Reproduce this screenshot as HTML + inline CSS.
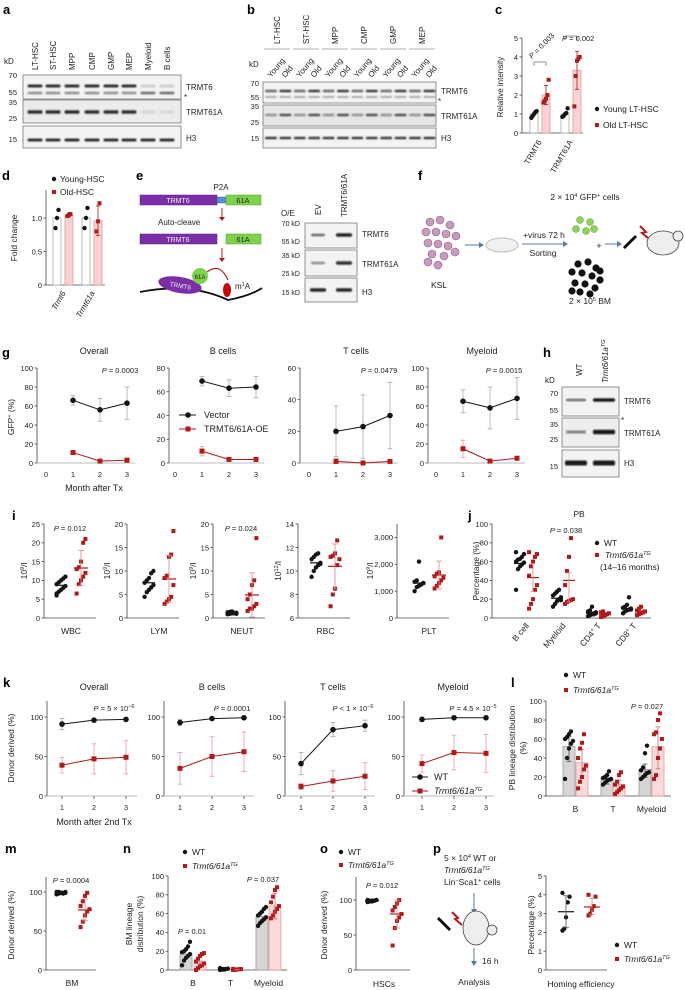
<!DOCTYPE html>
<html><head><meta charset="utf-8"><style>
html,body{margin:0;padding:0;background:#fff;}
svg{display:block;font-family:"Liberation Sans",sans-serif;}
</style></head><body>
<svg id="fig" width="685" height="990" viewBox="0 0 685 990" xmlns="http://www.w3.org/2000/svg">
<defs><filter id="blur" x="-20%" y="-50%" width="140%" height="200%"><feGaussianBlur stdDeviation="0.7"/></filter></defs>
</svg>
<script>
// ---------- data ----------
const cCategories=['TRMT6','TRMT61A'];
const cYoungMean=[1.0,1.0];
const cOldMean=[2.0,3.3];
const cOldErr=[0.5,1.0];
const cYoungPts=[[0.8,0.9,1.0,1.1,1.15],[0.85,0.9,1.0,1.05,1.3]];
const cOldPts=[[1.6,1.7,1.8,2.0,2.8],[1.4,3.0,3.8,3.9,4.0]];
const cTicks=[0,1,2,3,4,5];

const dCategories=['Trmt6','Trmt61a'];
const dYoungMean=[1.0,1.0];
const dOldMean=[1.04,0.96];
const dOldErr=[0.02,0.22];
const dYoungPts=[[0.85,1.0,1.12],[0.85,1.0,1.15]];
const dOldPts=[[1.03,1.05,1.06],[0.8,0.95,1.22]];
const dTicks=[0,0.5,1.0];

const gTitles=['Overall','B cells','T cells','Myeloid'];
const gMonths=[1,2,3];
const gVector=[[66,56,63],[69,63,64],[20,23,30],[65,58,68]];
const gVectorErr=[[5,12,17],[4,7,9],[16,20,21],[12,22,22]];
const gOE=[[11,2,3],[10,3,3],[1,0,1],[15,2,5]];
const gOEErr=[[2,1,1],[4,1,1],[2,0,1],[9,1,1]];
const gYMax=[100,80,60,100];
const gPvals=['<tspan font-style="italic">P</tspan> = 0.0003','','<tspan font-style="italic">P</tspan> = 0.0479','<tspan font-style="italic">P</tspan> = 0.0015'];

const iCats=['WBC','LYM','NEUT','RBC','PLT'];
const iUnits=['10<tspan dy="-3" font-size="5.5">9</tspan><tspan dy="3">/l</tspan>','10<tspan dy="-3" font-size="5.5">9</tspan><tspan dy="3">/l</tspan>','10<tspan dy="-3" font-size="5.5">9</tspan><tspan dy="3">/l</tspan>','10<tspan dy="-3" font-size="5.5">12</tspan><tspan dy="3">/l</tspan>','10<tspan dy="-3" font-size="5.5">9</tspan><tspan dy="3">/l</tspan>'];
const iMin=[0,0,0,6,0];
const iMax=[25,20,20,14,3500];
const iTicks=[[0,5,10,15,20,25],[0,5,10,15,20],[0,5,10,15,20],[6,8,10,12,14],[0,1000,2000,3000]];
const iTickLabels=[['0','5','10','15','20','25'],['0','5','10','15','20'],['0','5','10','15','20'],['6','8','10','12','14'],['0','1,000','2,000','3,000']];
const iWT=[[6,7,7.5,8,8.5,9,9.5,10,10.5,11,6.5],[4.5,5.5,6,6.5,7,7.5,8,8.5,9.5,10],[0.8,0.9,1,1,1.1,1.2,1.3,1.4,1.1,0.9],[9.5,10,10.3,10.5,10.7,11,11.2,11.4,11.5,10.6],[1000,1150,1200,1250,1300,1350,1400,2100,1250,1300]];
const iTG=[[6.5,9,10,11,12,13,13.5,15,20,21],[3,3.5,4,4.5,7,8.5,9,13,13.5,18.5],[1.5,2,2,2.5,3,4,5,7,8,17],[7,8,8.5,10.5,11,11.2,11.3,11.5,12.6],[1100,1200,1300,1400,1500,1550,1650,1700,3000]];
const iWTMean=[8.7,7.5,1.1,10.7,1300];
const iTGMean=[13.3,8.3,4.9,10.4,1600];
const iTGSd=[4.7,5,4.7,1.9,520];
const iPvals=['<tspan font-style="italic">P</tspan> = 0.012','','<tspan font-style="italic">P</tspan> = 0.024','',''];

const jCats=['B cell','Myeloid','CD4<tspan dy="-3" font-size="5.5">+</tspan><tspan dy="3"> T</tspan>','CD8<tspan dy="-3" font-size="5.5">+</tspan><tspan dy="3"> T</tspan>'];
const jWT=[[30,52,55,57,59,60,62,63,65,68,70],[12,15,18,20,22,24,26,28,30,19],[2,3,4,5,6,7,8,12,4,5],[5,7,8,9,10,11,12,14,22,9]];
const jTG=[[10,15,20,30,35,45,55,60,65,68,70],[15,17,18,19,20,35,50,65,85],[1,2,3,4,5,6,7,3],[3,4,5,6,7,8,10,12,6]];
const jWTMean=[58,21,5,10];
const jTGMean=[43,40,4,7];
const jTicks=[0,20,40,60,80,100];

const kTitles=['Overall','B cells','T cells','Myeloid'];
const kMonths=[1,2,3];
const kWT=[[91,96,97],[93,98,99],[41,84,89],[97,99,99]];
const kWTErr=[[7,2,2],[4,1,1],[14,9,7],[3,1,1]];
const kTG=[[39,47,49],[35,50,56],[12,19,25],[41,55,54]];
const kTGErr=[[10,19,21],[20,25,25],[4,13,17],[11,22,24]];
const kPvals=['<tspan font-style="italic">P</tspan> = 5 × 10<tspan dy="-3" font-size="5.5">−6</tspan>','<tspan font-style="italic">P</tspan> = 0.0001','<tspan font-style="italic">P</tspan> &lt; 1 × 10<tspan dy="-3" font-size="5.5">−6</tspan>','<tspan font-style="italic">P</tspan> = 4.5 × 10<tspan dy="-3" font-size="5.5">−5</tspan>'];

const lCats=['B','T','Myeloid'];
const lWTMean=[52,18,28];
const lTGMean=[35,12,52];
const lWTPts=[[18,40,50,55,58,60,62,65,68],[12,14,16,17,18,19,20,22,26],[18,20,22,24,25,27,30,45,53]];
const lTGPts=[[8,15,20,28,32,40,50,56,65],[2,4,6,8,10,12,15,22,25],[18,22,40,50,60,65,67,80,87]];
const lTicks=[0,20,40,60,80,100];

const mWT=[97,98,99,99,100,100,100,99,98,99];
const mTG=[55,62,70,75,78,82,88,95,99];
const mTGMean=77;

const nCats=['B','T','Myeloid'];
const nWTMean=[17,1,57];
const nTGMean=[8,0.5,68];
const nWTPts=[[5,10,13,15,17,19,20,22,25,30],[0,0.5,1,1,1.5,2,1,0.5],[47,50,52,54,56,58,60,62,65,67]];
const nTGPts=[[0,2,4,5,7,9,12,15,17,18],[0,0.2,0.5,0.8,1,1.2,0.6],[55,58,62,65,68,72,78,85,88]];
const nTicks=[0,20,40,60,80,100];

const oWT=[97,98,99,99,100,100,99,98,99];
const oTG=[35,60,70,75,80,85,90,95,100];
const oTGMean=80;

const pWT=[2.1,2.2,2.8,3.6,3.9,4.1];
const pTG=[2.9,3.0,3.2,3.4,3.9,4.0];
const pWTMean=3.1;
const pTGMean=3.35;

// ---------- helpers ----------
const NS='http://www.w3.org/2000/svg';
const svg=document.getElementById('fig');
const RED='#b01a1a', BLK='#151515';
function mk(tag,attrs,name){
  const e=document.createElementNS(NS,tag);
  for(const k in attrs) e.setAttribute(k,attrs[k]);
  
  
  svg.appendChild(e);return e;
}
function T(x,y,html,name,o={}){
  const e=mk('text',{x:x,y:y,'font-size':o.s||8,'text-anchor':o.a||'start',fill:o.f||'#222','font-weight':o.w||'normal','font-style':o.i?'italic':'normal'},name);
  if(o.r) e.setAttribute('transform','rotate('+o.r+' '+x+' '+y+')');
  e.innerHTML=html;return e;
}
function L(x1,y1,x2,y2,name,c,w){return mk('line',{x1:x1,y1:y1,x2:x2,y2:y2,stroke:c||'#333','stroke-width':w||0.8},name);}
function R(x,y,w,h,name,fill,stroke,sw){return mk('rect',{x:x,y:y,width:w,height:h,fill:fill||'none',stroke:stroke||'none','stroke-width':sw||0.8},name);}
function dot(x,y,name){return mk('circle',{cx:x,cy:y,r:2.2,fill:BLK},name);}
function sq(x,y,name,s){s=s||4;return mk('rect',{x:x-s/2,y:y-s/2,width:s,height:s,fill:RED},name);}
function yAxis(x,ticks,labels,sc,name,top){
  L(x,sc(ticks[0]),x,top!==undefined?top:sc(ticks[ticks.length-1]),name+'-line','#444',0.8);
  ticks.forEach((t,i)=>{L(x-2.5,sc(t),x,sc(t),name+'-tick','#444',0.8);T(x-4,sc(t)+2.8,labels[i],name+'-tick-label',{a:'end',s:7.5});});
}
function errbar(x,lo,hi,name,c,cap){cap=cap||2.5;L(x,lo,x,hi,name,c,0.8);L(x-cap,lo,x+cap,lo,name+'-cap',c,0.8);L(x-cap,hi,x+cap,hi,name+'-cap',c,0.8);}
function jit(i){return ((i%5)-2)*2.2;}
function band(x,y,w,h,op,name){return mk('rect',{x:x-w/2,y:y-h/2,width:w,height:h,rx:1.5,fill:'#111','fill-opacity':op,filter:'url(#blur)'},name);}
function panel(x,y,l){T(x,y,l,'panel-label-'+l,{s:13,w:'bold',f:'#000'});}

// ---------- panel labels ----------
[['a',3,14],['b',247,14],['c',495,14],['d',2,180],['e',136,180],['f',418,180],['g',2,357],['h',543,357],['i',12,520],['j',468,520],['k',3,687],['l',511,687],['m',5,853],['n',123,853],['o',320,853],['p',433,853]].forEach(p=>panel(p[1],p[2],p[0]));

// ---------- panel a blot ----------
const aLanes=['LT-HSC','ST-HSC','MPP','CMP','GMP','MEP','Myeloid','B cells'];
const aX=[35,53,72,92,111,129,148,167];
aLanes.forEach((n,i)=>T(aX[i]+3,70,n,'a-lane-label',{r:-90,s:8}));
T(4,64,'kD','a-kd-label',{s:8});
R(23,75,158,24,'a-trmt6-blot','#f3f3f3','#777');
R(23,100,158,23,'a-trmt61a-blot','#ececec','#777');
R(23,126,158,22,'a-h3-blot','#f3f3f3','#777');
aX.forEach((x,i)=>{const s=i<6;
  band(x,86,15,3,s?0.85:0.15,'a-trmt6-band');
  band(x,93,15,2.5,s?0.45:0.6,'a-nonspecific-band');
  band(x,112,15,3.5,s?0.85:0.08,'a-trmt61a-band');
  band(x,140,15,3,0.85,'a-h3-band');});
[['70',78],['55',95],['35',105],['25',121],['15',142]].forEach(k=>T(17,k[1],k[0],'a-kd-tick',{a:'end',s:7.5}));
T(186,90,'TRMT6','a-trmt6-label');T(184,100,'*','a-asterisk');T(186,115,'TRMT61A','a-trmt61a-label');T(186,141,'H3','a-h3-label');

// ---------- panel b blot ----------
const bGroups=['LT-HSC','ST-HSC','MPP','CMP','GMP','MEP'];
bGroups.forEach((g,i)=>{const cx=277+i*29;T(cx+3,44,g,'b-group-label',{r:-90,s:8});L(cx-13,49,cx+13,49,'b-group-line','#999',0.8);});
for(let i=0;i<12;i++){const x=271+i*14.4;T(x,78,i%2?'Old':'Young','b-age-label',{r:-50,s:8});}
T(249,67,'kD','b-kd-label');
R(263,82,173,21,'b-trmt6-blot','#f3f3f3','#777');
R(263,105,173,21,'b-trmt61a-blot','#e6e6e6','#777');
R(263,128,173,20,'b-h3-blot','#f3f3f3','#777');
for(let i=0;i<12;i++){const x=271+i*14.4;
  band(x,91,12,2.5,i%2?0.8:0.6,'b-trmt6-band');band(x,97,12,2,0.3,'b-nonspecific-band');
  band(x,115,12,2.5,i%2?0.7:0.4,'b-trmt61a-band');band(x,138,12,2.5,0.8,'b-h3-band');}
[['70',86],['55',100],['35',109],['25',125],['15',141]].forEach(k=>T(259,k[1],k[0],'b-kd-tick',{a:'end',s:7.5}));
T(441,94,'TRMT6','b-trmt6-label');T(438,104,'*','b-asterisk');T(441,119,'TRMT61A','b-trmt61a-label');T(441,141,'H3','b-h3-label');

// ---------- panel c ----------
const yc=v=>133-v*19;
yAxis(522,cTicks,cTicks.map(String),yc,'c-y-axis');
L(522,133,583,133,'c-x-axis','#444');
T(503,87,'Relative intensity','c-y-title',{a:'middle',r:-90,s:8});
const cX=[540,571];
cCategories.forEach((c,i)=>{const xy=cX[i]-6,xo=cX[i]+6;
  R(xy-4,yc(cYoungMean[i]),8,133-yc(cYoungMean[i]),'c-young-bar','#fff','#aaa');
  R(xo-4,yc(cOldMean[i]),8,133-yc(cOldMean[i]),'c-old-bar','#f9d3d3','#e49a9a');
  errbar(xo,yc(cOldMean[i]-cOldErr[i]),yc(cOldMean[i]+cOldErr[i]),'c-old-error',RED,2);
  cYoungPts[i].forEach((v,j)=>dot(xy+jit(j)*0.6,yc(v),'c-young-point'));
  cOldPts[i].forEach((v,j)=>sq(xo+jit(j)*0.6,yc(v),'c-old-point'));
  T(cX[i]+2,142,c,'c-x-label',{a:'end',r:-60,s:8});});
L(534,62,546,62,'c-bracket-1','#777');L(534,62,534,66,'c-bracket-1-l','#777');L(546,62,546,66,'c-bracket-1-r','#777');
L(565,36,577,36,'c-bracket-2','#777');L(565,36,565,40,'c-bracket-2-l','#777');L(577,36,577,40,'c-bracket-2-r','#777');
T(532,59,'<tspan font-style="italic">P</tspan> = 0.003','c-pvalue-1',{r:-45,s:7.5});
T(562,41,'<tspan font-style="italic">P</tspan> = 0.002','c-pvalue-2',{s:7.5});
dot(597,109,'c-legend-young-marker');T(603,112,'Young LT-HSC','c-legend-young',{s:8.5});
sq(597,125,'c-legend-old-marker');T(603,128,'Old LT-HSC','c-legend-old',{s:8.5});

// ---------- panel d ----------
const yd=v=>285-v*67;
yAxis(46,dTicks,['0','0.5','1.0'],yd,'d-y-axis',190);
L(46,285,105,285,'d-x-axis','#444');
T(17,238,'Fold change','d-y-title',{a:'middle',r:-90,s:8.5});
const dX=[63,92];
dCategories.forEach((c,i)=>{const xy=dX[i]-6,xo=dX[i]+6;
  R(xy-4,yd(dYoungMean[i]),8,285-yd(dYoungMean[i]),'d-young-bar','#fff','#aaa');
  R(xo-4,yd(dOldMean[i]),8,285-yd(dOldMean[i]),'d-old-bar','#f9d3d3','#e49a9a');
  errbar(xo,yd(dOldMean[i]-dOldErr[i]),yd(dOldMean[i]+dOldErr[i]),'d-old-error',RED,2);
  dYoungPts[i].forEach((v,j)=>dot(xy+(j-1)*1.5,yd(v),'d-young-point'));
  dOldPts[i].forEach((v,j)=>sq(xo+(j-1)*1.5,yd(v),'d-old-point'));
  T(dX[i]+3,293,c,'d-x-label',{a:'end',r:-60,s:8,i:true});});
dot(54,179,'d-legend-young-marker');T(60,182,'Young-HSC','d-legend-young',{s:8.5});
sq(54,192,'d-legend-old-marker');T(60,195,'Old-HSC','d-legend-old',{s:8.5});

// ---------- panel e ----------
R(140,195,77,10,'e-trmt6-construct','#7b2fa6','#5a1f80',0.5);T(178,203,'TRMT6','e-trmt6-text',{a:'middle',s:7,f:'#eee'});
R(217,197,9,6,'e-p2a-linker','#5b8ad8','#3a66b0',0.5);
R(226,195,35,10,'e-61a-construct','#7cd34a','#4f9a2a',0.5);T(243,203,'61A','e-61a-text',{a:'middle',s:7.5,f:'#222'});
T(221,190,'P2A','e-p2a-label',{a:'middle',s:8});
L(222,208,222,218,'e-arrow-1',RED,1);mk('path',{d:'M219,217 L222,221 L225,217 Z',fill:RED},'e-arrow-1-head');
T(158,225,'Auto-cleave','e-autocleave-label',{s:8});
R(140,234,77,10,'e-trmt6-cleaved','#7b2fa6','#5a1f80',0.5);T(178,242,'TRMT6','e-trmt6-cleaved-text',{a:'middle',s:7,f:'#eee'});
R(226,234,35,10,'e-61a-cleaved','#7cd34a','#4f9a2a',0.5);T(243,242,'61A','e-61a-cleaved-text',{a:'middle',s:7.5});
L(222,248,222,259,'e-arrow-2',RED,1);mk('path',{d:'M219,258 L222,262 L225,258 Z',fill:RED},'e-arrow-2-head');
mk('path',{d:'M140,292 Q190,282 228,300 Q250,296 262,288',fill:'none',stroke:'#111','stroke-width':1.8},'e-rna-strand');
mk('ellipse',{cx:180,cy:285,rx:22,ry:8,fill:'#7b2fa6',transform:'rotate(10 180 285)'},'e-trmt6-protein');
T(180,288,'TRMT6','e-trmt6-protein-text',{a:'middle',s:6.5,f:'#eee',r:10});
mk('circle',{cx:200,cy:276,r:8,fill:'#7cd34a'},'e-61a-protein');T(200,279,'61A','e-61a-protein-text',{a:'middle',s:6});
mk('path',{d:'M207,272 Q220,262 228,280',fill:'none',stroke:RED,'stroke-width':1.2},'e-methyl-arrow');
mk('ellipse',{cx:227,cy:290,rx:4,ry:7,fill:'#c00'},'e-m1a-mark');
T(235,289,'m<tspan dy="-3" font-size="5.5">1</tspan><tspan dy="3">A</tspan>','e-m1a-label',{s:8});
T(281,216,'O/E','e-oe-label',{s:8});
T(321,215,'EV','e-ev-label',{r:-90,s:8});T(347,217,'TRMT6/61A','e-oe-lane-label',{r:-90,s:8});
R(305,223,52,25,'e-trmt6-blot','#f3f3f3','#777');R(305,250,52,26,'e-trmt61a-blot','#f3f3f3','#777');R(305,278,52,24,'e-h3-blot','#f3f3f3','#777');
band(318,235,14,2.5,0.6,'e-trmt6-band-ev');band(344,235,16,3.5,0.9,'e-trmt6-band-oe');
band(318,263,14,2.5,0.45,'e-trmt61a-band-ev');band(344,263,16,3.5,0.85,'e-trmt61a-band-oe');
band(318,290,16,3.5,0.9,'e-h3-band-ev');band(344,290,16,3.5,0.9,'e-h3-band-oe');
[['70 kD',226],['55 kD',244],['35 kD',258],['25 kD',276],['15 kD',295]].forEach(k=>T(300,k[1],k[0],'e-kd-tick',{a:'end',s:7}));
T(362,237,'TRMT6','e-trmt6-label');T(362,267,'TRMT61A','e-trmt61a-label');T(362,295,'H3','e-h3-label');

// ---------- panel f ----------
const kslCells=[[430,222],[440,220],[450,225],[426,232],[436,232],[446,234],[456,236],[428,243],[438,244],[448,246],[432,254],[444,256],[455,252],[438,265],[428,262]];
kslCells.forEach(c=>mk('circle',{cx:c[0],cy:c[1],r:4,fill:'#c79bbd',stroke:'#8f5d84','stroke-width':0.6},'f-ksl-cell'));
T(439,288,'KSL','f-ksl-label',{a:'middle',s:8.5});
L(465,245,480,245,'f-arrow-1','#5a7aa0',1);mk('path',{d:'M479,242 L484,245 L479,248 Z',fill:'#5a7aa0'},'f-arrow-1-head');
mk('ellipse',{cx:502,cy:245,rx:16,ry:7,fill:'#f0f0f0',stroke:'#bbb'},'f-culture-dish');
T(544,238,'+virus 72 h','f-virus-label',{a:'middle',s:8.5});
L(522,244,564,244,'f-arrow-2','#5a7aa0',1);mk('path',{d:'M563,241 L568,244 L563,247 Z',fill:'#5a7aa0'},'f-arrow-2-head');
T(543,256,'Sorting','f-sorting-label',{a:'middle',s:8.5});
T(585,200,'2 × 10<tspan dy="-3" font-size="5.5">4</tspan><tspan dy="3"> GFP</tspan><tspan dy="-3" font-size="5.5">+</tspan><tspan dy="3"> cells</tspan>','f-gfp-cells-label',{a:'middle',s:8.5});
[[580,220],[590,222],[576,229],[586,231],[594,229]].forEach(c=>mk('circle',{cx:c[0],cy:c[1],r:3.5,fill:'#8fd25a',stroke:'#5f9a37','stroke-width':0.5},'f-gfp-cell'));
T(599,249,'+','f-plus',{a:'middle',s:9});
[[578,264],[588,262],[596,268],[572,272],[582,273],[592,276],[600,280],[575,283],[585,284],[595,288],[580,292],[590,294],[572,291],[600,271]].forEach(c=>mk('circle',{cx:c[0],cy:c[1],r:3.6,fill:'#111'},'f-bm-cell'));
T(590,304,'2 × 10<tspan dy="-3" font-size="5.5">5</tspan><tspan dy="3"> BM</tspan>','f-bm-label',{a:'middle',s:8.5});
L(605,244,618,244,'f-arrow-3','#5a7aa0',1);mk('path',{d:'M617,241 L622,244 L617,247 Z',fill:'#5a7aa0'},'f-arrow-3-head');
mk('path',{d:'M624,248 L636,236',stroke:'#111','stroke-width':3},'f-syringe');
mk('path',{d:'M640,226 L646,232 L642,233 L648,238',stroke:RED,'stroke-width':2,fill:'none'},'f-irradiation');
mk('ellipse',{cx:663,cy:243,rx:16,ry:12,fill:'#eee',stroke:'#444','stroke-width':0.8},'f-mouse-body');
mk('circle',{cx:678,cy:236,r:5,fill:'#eee',stroke:'#444','stroke-width':0.8},'f-mouse-head');

// ---------- panel g ----------
const gAxisX=[37,169,300,428], gX0=[46,175,309,436], gTitleX=[94,223,356,482];
gTitles.forEach((t,s)=>{
  const sc=v=>463-v*95/gYMax[s];
  const xs=m=>gX0[s]+m*27;
  T(gTitleX[s],354,t,'g-title-'+t.replace(' ','-').toLowerCase(),{a:'middle',s:9});
  const tk=[];for(let v=0;v<=gYMax[s];v+=20)tk.push(v);
  yAxis(gAxisX[s],tk,tk.map(String),sc,'g-y-axis');
  L(gAxisX[s],463,xs(3)+8,463,'g-x-axis','#bbb',1);
  [0,1,2,3].forEach(m=>T(xs(m),477,String(m),'g-x-tick-label',{a:'middle',s:7.5}));
  gMonths.forEach((m,i)=>errbar(xs(m),sc(Math.max(0,gVector[s][i]-gVectorErr[s][i])),sc(gVector[s][i]+gVectorErr[s][i]),'g-vector-error','#aaa',2.5));
  gMonths.forEach((m,i)=>errbar(xs(m),sc(Math.max(0,gOE[s][i]-gOEErr[s][i])),sc(gOE[s][i]+gOEErr[s][i]),'g-oe-error','#e99',2.5));
  mk('polyline',{points:gMonths.map((m,i)=>xs(m)+','+sc(gVector[s][i])).join(' '),fill:'none',stroke:BLK,'stroke-width':1},'g-vector-line');
  mk('polyline',{points:gMonths.map((m,i)=>xs(m)+','+sc(gOE[s][i])).join(' '),fill:'none',stroke:RED,'stroke-width':1},'g-oe-line');
  gMonths.forEach((m,i)=>mk('circle',{cx:xs(m),cy:sc(gVector[s][i]),r:2.8,fill:BLK},'g-vector-point'));
  gMonths.forEach((m,i)=>sq(xs(m),sc(gOE[s][i]),'g-oe-point',5));
  if(gPvals[s]) T(gTitleX[s]+ (s==0?26:s==2?23:22),373,gPvals[s],'g-pvalue',{a:'middle',s:7.5});
});
T(14,417,'GFP<tspan dy="-3" font-size="5.5">+</tspan><tspan dy="3"> (%)</tspan>','g-y-title',{a:'middle',r:-90,s:8.5});
T(94,491,'Month after Tx','g-x-title',{a:'middle',s:9});
L(179,415,196,415,'g-legend-vector-line',BLK,1);mk('circle',{cx:188,cy:415,r:2.8,fill:BLK},'g-legend-vector-marker');T(204,418,'Vector','g-legend-vector',{s:9});
L(179,429,196,429,'g-legend-oe-line',RED,1);sq(188,429,'g-legend-oe-marker',5);T(204,432,'TRMT6/61A-OE','g-legend-oe',{s:9});

// ---------- panel h ----------
T(582,376,'WT','h-wt-label',{r:-90,s:8});
T(608,383,'Trmt6/61a<tspan dy="-3" font-size="5.5">TG</tspan>','h-tg-label',{r:-90,s:8,i:true});
T(545,383,'kD','h-kd-label');
R(562,387,57,29,'h-trmt6-blot','#f3f3f3','#777');R(562,418,57,29,'h-trmt61a-blot','#eeeeee','#777');R(562,450,57,27,'h-h3-blot','#f3f3f3','#777');
band(576,400,20,2.5,0.6,'h-trmt6-band-wt');band(604,400,22,3.5,0.95,'h-trmt6-band-tg');
band(576,432,20,3,0.5,'h-trmt61a-band-wt');band(604,432,22,4.5,0.95,'h-trmt61a-band-tg');
band(576,463,22,5,0.95,'h-h3-band-wt');band(604,463,22,5,0.95,'h-h3-band-tg');
[['70',396],['55',413],['35',427],['25',442],['15',469]].forEach(k=>T(558,k[1],k[0],'h-kd-tick',{a:'end',s:7.5}));
T(624,404,'TRMT6','h-trmt6-label');T(621,423,'*','h-asterisk');T(624,436,'TRMT61A','h-trmt61a-label');T(624,466,'H3','h-h3-label');

// ---------- panel i ----------
const iAxisX=[44,127,213,298,397], iWTX=[61,149,232,316,419], iTGX=[81,169,252,335,439];
iCats.forEach((c,s)=>{
  const sc=v=>618-(v-iMin[s])*94/(iMax[s]-iMin[s]);
  yAxis(iAxisX[s],iTicks[s],iTickLabels[s],sc,'i-y-axis-'+c.toLowerCase(),524);
  L(iAxisX[s],618,iAxisX[s]+52,618,'i-x-axis','#444');
  T((iWTX[s]+iTGX[s])/2,634,c,'i-x-label-'+c.toLowerCase(),{a:'middle',s:8.5});
  T(iAxisX[s]-(s==4?24:17),571,iUnits[s],'i-y-unit',{a:'middle',r:-90,s:8.5});
  iWT[s].forEach((v,j)=>dot(iWTX[s]+jit(j),sc(v),'i-wt-point'));
  iTG[s].forEach((v,j)=>sq(iTGX[s]+jit(j),sc(v),'i-tg-point'));
  L(iWTX[s]-6,sc(iWTMean[s]),iWTX[s]+6,sc(iWTMean[s]),'i-wt-mean',BLK,1.2);
  L(iTGX[s]-7,sc(iTGMean[s]),iTGX[s]+7,sc(iTGMean[s]),'i-tg-mean',RED,1.2);
  errbar(iTGX[s],sc(Math.max(iMin[s],iTGMean[s]-iTGSd[s])),sc(iTGMean[s]+iTGSd[s]),'i-tg-error','#e08585',3);
  if(iPvals[s]) T(iWTX[s]+9,531,iPvals[s],'i-pvalue',{a:'middle',s:7.5});
});

// ---------- panel j ----------
const yj=v=>618-v*0.94;
yAxis(492,jTicks,jTicks.map(String),yj,'j-y-axis');
L(492,618,651,618,'j-x-axis','#444');
T(479,571,'Percentage (%)','j-y-title',{a:'middle',r:-90,s:8.5});
T(579,517,'PB','j-title',{a:'middle',s:8.5});
const jWTX=[520,557,592,627], jTGX=[533,569,605,641];
jCats.forEach((c,s)=>{
  jWT[s].forEach((v,j)=>dot(jWTX[s]+jit(j)*0.9,yj(v),'j-wt-point'));
  jTG[s].forEach((v,j)=>sq(jTGX[s]+jit(j)*0.9,yj(v),'j-tg-point'));
  L(jWTX[s]-6,yj(jWTMean[s]),jWTX[s]+6,yj(jWTMean[s]),'j-wt-mean',BLK,1.2);
  L(jTGX[s]-6,yj(jTGMean[s]),jTGX[s]+6,yj(jTGMean[s]),'j-tg-mean',RED,1.2);
  T((jWTX[s]+jTGX[s])/2+3,626,c,'j-x-label',{a:'end',r:-50,s:8.5});
});
errbar(533,yj(28),yj(58),'j-tg-error','#e08585',2.5);errbar(569,yj(17),yj(48),'j-tg-error','#e08585',2.5);
T(566,533,'<tspan font-style="italic">P</tspan> = 0.038','j-pvalue',{a:'middle',s:7.5});
dot(597,543,'j-legend-wt-marker');T(604,546,'WT','j-legend-wt',{s:8.5});
sq(597,555,'j-legend-tg-marker');T(605,558,'Trmt6/61a<tspan dy="-3" font-size="5.5">TG</tspan>','j-legend-tg',{s:8.5,i:true});
T(600,570,'(14–16 months)','j-legend-age',{s:8.5});

// ---------- panel k ----------
const kAxisX=[47,164,285,404], kX1=[62,180,301,422], kTitleX=[94,212,333,453];
kTitles.forEach((t,s)=>{
  const sc=v=>796-v*0.79;
  const xs=m=>kX1[s]+(m-1)*32;
  T(kTitleX[s],690,t,'k-title-'+t.replace(' ','-').toLowerCase(),{a:'middle',s:9});
  yAxis(kAxisX[s],[0,50,100],['0','50','100'],sc,'k-y-axis',701);
  L(kAxisX[s],796,kAxisX[s]+90,796,'k-x-axis','#bbb',1);
  kMonths.forEach(m=>{L(xs(m),796,xs(m),799,'k-x-tick','#444');T(xs(m),810,String(m),'k-x-tick-label',{a:'middle',s:7.5});});
  kMonths.forEach((m,i)=>errbar(xs(m),sc(kWT[s][i]-kWTErr[s][i]),sc(Math.min(100,kWT[s][i]+kWTErr[s][i])),'k-wt-error','#aaa',2.5));
  kMonths.forEach((m,i)=>errbar(xs(m),sc(kTG[s][i]-kTGErr[s][i]),sc(kTG[s][i]+kTGErr[s][i]),'k-tg-error','#e99',2.5));
  mk('polyline',{points:kMonths.map((m,i)=>xs(m)+','+sc(kWT[s][i])).join(' '),fill:'none',stroke:BLK,'stroke-width':1},'k-wt-line');
  mk('polyline',{points:kMonths.map((m,i)=>xs(m)+','+sc(kTG[s][i])).join(' '),fill:'none',stroke:RED,'stroke-width':1},'k-tg-line');
  kMonths.forEach((m,i)=>mk('circle',{cx:xs(m),cy:sc(kWT[s][i]),r:2.8,fill:BLK},'k-wt-point'));
  kMonths.forEach((m,i)=>sq(xs(m),sc(kTG[s][i]),'k-tg-point',5));
  T(kTitleX[s]+20,711,kPvals[s],'k-pvalue',{a:'middle',s:7.5});
});
T(14,748,'Donor derived (%)','k-y-title',{a:'middle',r:-90,s:8.5});
T(94,825,'Month after 2nd Tx','k-x-title',{a:'middle',s:9});
L(412,777,428,777,'k-legend-wt-line',BLK,1);mk('circle',{cx:420,cy:777,r:2.8,fill:BLK},'k-legend-wt-marker');T(434,780,'WT','k-legend-wt',{s:9});
L(412,791,428,791,'k-legend-tg-line',RED,1);sq(420,791,'k-legend-tg-marker',5);T(434,794,'Trmt6/61a<tspan dy="-3" font-size="5.5">TG</tspan>','k-legend-tg',{s:9,i:true});

// ---------- panel l ----------
const yl=v=>796-v*0.95;
yAxis(546,lTicks,lTicks.map(String),yl,'l-y-axis');
L(546,796,671,796,'l-x-axis','#444');
T(515,748,'PB lineage distribution','l-y-title-1',{a:'middle',r:-90,s:8.5});T(526,748,'(%)','l-y-title-2',{a:'middle',r:-90,s:8.5});
const lWTX=[569,607,645], lTGX=[582,619,658];
lCats.forEach((c,s)=>{
  R(lWTX[s]-6,yl(lWTMean[s]),12,796-yl(lWTMean[s]),'l-wt-bar','#d6d6d6','#999');
  R(lTGX[s]-6,yl(lTGMean[s]),12,796-yl(lTGMean[s]),'l-tg-bar','#fadada','#e49a9a');
  errbar(lWTX[s],yl(lWTMean[s]*0.7),yl(lWTMean[s]*1.2),'l-wt-error','#555',2.5);
  errbar(lTGX[s],yl(lTGMean[s]*0.55),yl(lTGMean[s]*1.4),'l-tg-error','#d66',2.5);
  lWTPts[s].forEach((v,j)=>dot(lWTX[s]+jit(j)*0.9,yl(v),'l-wt-point'));
  lTGPts[s].forEach((v,j)=>sq(lTGX[s]+jit(j)*0.9,yl(v),'l-tg-point'));
  T((lWTX[s]+lTGX[s])/2,812,c,'l-x-label',{a:'middle',s:8.5});
});
T(647,709,'<tspan font-style="italic">P</tspan> = 0.027','l-pvalue',{a:'middle',s:7.5});
dot(566,675,'l-legend-wt-marker');T(573,678,'WT','l-legend-wt',{s:8.5});
sq(566,690,'l-legend-tg-marker');T(573,693,'Trmt6/61a<tspan dy="-3" font-size="5.5">TG</tspan>','l-legend-tg',{s:8.5,i:true});

// ---------- panel m ----------
const ym=v=>970-v*0.78;
yAxis(46,[0,50,100],['0','50','100'],ym,'m-y-axis',877);
L(46,970,96,970,'m-x-axis','#444');
T(14,925,'Donor derived (%)','m-y-title',{a:'middle',r:-90,s:8.5});
mWT.forEach((v,j)=>dot(61+jit(j),ym(v),'m-wt-point'));
mTG.forEach((v,j)=>sq(85+jit(j),ym(v),'m-tg-point'));
L(55,ym(99),67,ym(99),'m-wt-mean',BLK,1.2);L(78,ym(mTGMean),92,ym(mTGMean),'m-tg-mean',RED,1.2);
errbar(85,ym(mTGMean-14),ym(mTGMean+14),'m-tg-error','#e08585',3);
T(71,883,'<tspan font-style="italic">P</tspan> = 0.0004','m-pvalue',{a:'middle',s:7.5});
T(72,986,'BM','m-x-label',{a:'middle',s:8.5});

// ---------- panel n ----------
const yn=v=>970-v*0.94;
yAxis(168,nTicks,nTicks.map(String),yn,'n-y-axis');
L(168,970,287,970,'n-x-axis','#444');
T(132,924,'BM lineage','n-y-title-1',{a:'middle',r:-90,s:8.5});T(143,924,'distribution (%)','n-y-title-2',{a:'middle',r:-90,s:8.5});
const nWTX=[186,224,262], nTGX=[200,237,275];
nCats.forEach((c,s)=>{
  R(nWTX[s]-6,yn(nWTMean[s]),12,970-yn(nWTMean[s]),'n-wt-bar','#d6d6d6','#999');
  R(nTGX[s]-6,yn(nTGMean[s]),12,970-yn(nTGMean[s]),'n-tg-bar','#fadada','#e49a9a');
  nWTPts[s].forEach((v,j)=>dot(nWTX[s]+jit(j)*0.9,yn(v),'n-wt-point'));
  nTGPts[s].forEach((v,j)=>sq(nTGX[s]+jit(j)*0.9,yn(v),'n-tg-point'));
  errbar(nTGX[s],yn(nTGMean[s]*0.8),yn(nTGMean[s]*1.2),'n-tg-error','#d66',2.5);
  T((nWTX[s]+nTGX[s])/2,986,c,'n-x-label',{a:'middle',s:8.5});
});
T(192,934,'<tspan font-style="italic">P</tspan> = 0.01','n-pvalue-b',{a:'middle',s:7.5});
T(263,882,'<tspan font-style="italic">P</tspan> = 0.037','n-pvalue-myeloid',{a:'middle',s:7.5});
dot(185,852,'n-legend-wt-marker');T(192,855,'WT','n-legend-wt',{s:8.5});
sq(185,866,'n-legend-tg-marker');T(192,869,'Trmt6/61a<tspan dy="-3" font-size="5.5">TG</tspan>','n-legend-tg',{s:8.5,i:true});

// ---------- panel o ----------
const yo=v=>970-v*0.70;
yAxis(356,[0,50,100],['0','50','100'],yo,'o-y-axis',877);
L(356,970,410,970,'o-x-axis','#444');
T(327,925,'Donor derived (%)','o-y-title',{a:'middle',r:-90,s:8.5});
oWT.forEach((v,j)=>dot(372+jit(j),yo(v),'o-wt-point'));
oTG.forEach((v,j)=>sq(397+jit(j),yo(v),'o-tg-point'));
L(365,yo(99),379,yo(99),'o-wt-mean',BLK,1.2);L(390,yo(oTGMean),404,yo(oTGMean),'o-tg-mean',RED,1.2);
errbar(397,yo(oTGMean-20),yo(100),'o-tg-error','#e08585',3);
T(382,888,'<tspan font-style="italic">P</tspan> = 0.012','o-pvalue',{a:'middle',s:7.5});
T(384,987,'HSCs','o-x-label',{a:'middle',s:8.5});
dot(341,852,'o-legend-wt-marker');T(348,855,'WT','o-legend-wt',{s:8.5});
sq(341,865,'o-legend-tg-marker');T(348,868,'Trmt6/61a<tspan dy="-3" font-size="5.5">TG</tspan>','o-legend-tg',{s:8.5,i:true});

// ---------- panel p ----------
T(444,861,'5 × 10<tspan dy="-3" font-size="5.5">4</tspan><tspan dy="3"> WT or</tspan>','p-cells-label-1',{s:8.5});
T(444,873,'Trmt6/61a<tspan dy="-3" font-size="5.5">TG</tspan>','p-cells-label-2',{s:8.5,i:true});
T(444,885,'Lin<tspan dy="-3" font-size="5.5">−</tspan><tspan dy="3">Sca1</tspan><tspan dy="-3" font-size="5.5">+</tspan><tspan dy="3"> cells</tspan>','p-cells-label-3',{s:8.5});
L(474,893,474,910,'p-arrow-1','#5a7aa0',1);mk('path',{d:'M471,909 L474,914 L477,909 Z',fill:'#5a7aa0'},'p-arrow-1-head');
mk('path',{d:'M438,918 L450,930',stroke:'#111','stroke-width':3},'p-syringe');
mk('path',{d:'M452,912 L458,918 L455,919 L462,925',stroke:RED,'stroke-width':2,fill:'none'},'p-irradiation');
mk('ellipse',{cx:476,cy:928,rx:13,ry:17,fill:'#eee',stroke:'#444','stroke-width':0.8},'p-mouse-body');
mk('circle',{cx:492,cy:930,r:5,fill:'#eee',stroke:'#444','stroke-width':0.8},'p-mouse-head');
L(474,948,474,962,'p-arrow-2','#5a7aa0',1);mk('path',{d:'M471,961 L474,966 L477,961 Z',fill:'#5a7aa0'},'p-arrow-2-head');
T(482,964,'16 h','p-time-label',{s:8.5});
T(474,985,'Analysis','p-analysis-label',{a:'middle',s:8.5});
const yp=v=>970-v*18.8;
yAxis(546,[0,1,2,3,4,5],['0','1','2','3','4','5'],yp,'p-y-axis');
L(546,970,607,970,'p-x-axis','#444');
T(534,925,'Percentage (%)','p-y-title',{a:'middle',r:-90,s:8.5});
pWT.forEach((v,j)=>dot(566+jit(j)*0.8,yp(v),'p-wt-point'));
pTG.forEach((v,j)=>sq(592+jit(j)*0.8,yp(v),'p-tg-point'));
L(558,yp(pWTMean),574,yp(pWTMean),'p-wt-mean',BLK,1.2);L(584,yp(pTGMean),600,yp(pTGMean),'p-tg-mean',RED,1.2);
errbar(566,yp(pWTMean-0.85),yp(pWTMean+0.85),'p-wt-error','#555',3);
errbar(592,yp(pTGMean-0.4),yp(pTGMean+0.45),'p-tg-error','#e08585',3);
T(581,987,'Homing efficiency','p-x-label',{a:'middle',s:8.5});
dot(617,945,'p-legend-wt-marker');T(624,948,'WT','p-legend-wt',{s:8.5});
sq(617,959,'p-legend-tg-marker');T(624,962,'Trmt6/61a<tspan dy="-3" font-size="5.5">TG</tspan>','p-legend-tg',{s:8.5,i:true});
</script>
</body></html>
